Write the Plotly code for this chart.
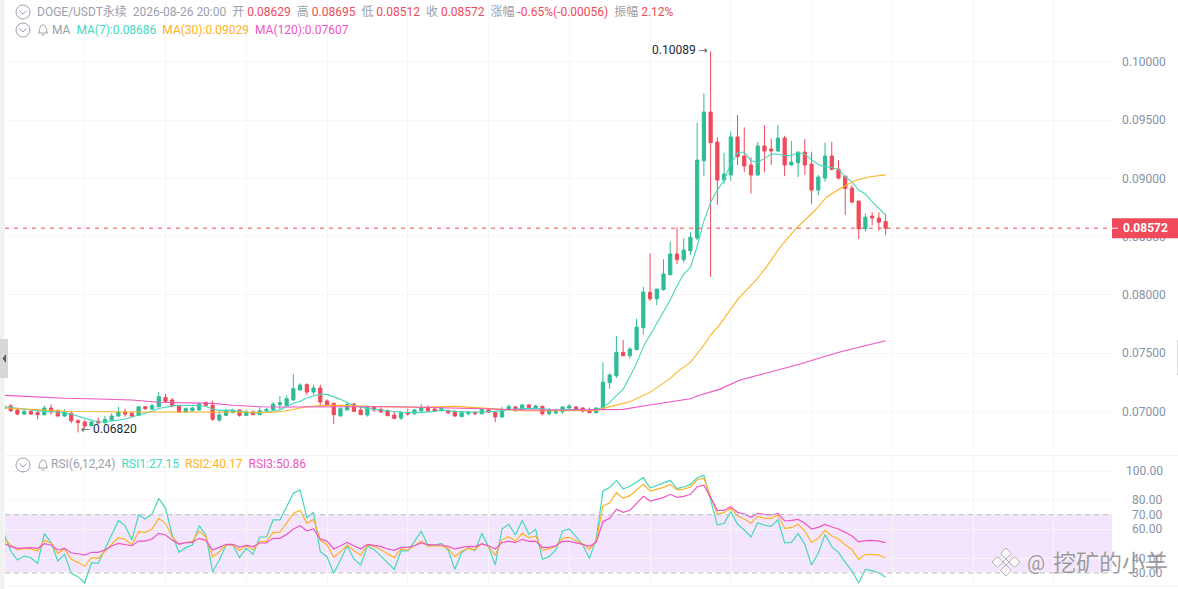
import plotly.graph_objects as go

W, H = 1178, 589

# ---------- candle data ----------
opens = [.07024,.07047,.07013,.06978,.07001,.06990,.06973,.07030,.07007,.06961,.06984,.06921,.06910,.06876,.06918,.06904,.06927,.06961,.06996,.06984,
         .06967,.07041,.07021,.07041,.07121,.07099,.07047,.06996,.07007,.07013,.07076,.07053,.06927,.06967,.06990,.07013,.06967,.06996,.06973,.07007,
         .07013,.07059,.07053,.07099,.07184,.07230,.07167,.07201,.07090,.07070,.06961,.07013,.07064,.07013,.06970,.07036,.07018,.07007,.06970,.06944,
         .06990,.06981,.07004,.07036,.07021,.07007,.07007,.06999,.06956,.06981,.06993,.06981,.07013,.06993,.06953,.07021,.07039,.07013,.07056,.07030,
         .07044,.06981,.06987,.06999,.07030,.07039,.07030,.07013,.06990,.07018,.07247,.07307,.07507,.07478,.07530,.07719,.08022,.07967,.08045,.08173,
         .08351,.08302,.08379,.08487,.09151,.09568,.09311,.08985,.09028,.09354,.09191,.09114,.09028,.09277,.09251,.09234,.09345,.09114,.09134,.09225,
         .09122,.08899,.09002,.09191,.09079,.09019,.08916,.08805,.08567,.08676,.08659,.08629]
highs = [.07059,.07064,.07027,.07018,.07013,.07021,.07053,.07061,.07018,.07018,.07007,.06933,.06927,.06916,.06950,.06961,.06984,.07041,.07024,.07001,
         .07047,.07047,.07067,.07167,.07150,.07116,.07047,.07036,.07041,.07076,.07087,.07093,.07007,.07024,.07024,.07018,.07013,.07007,.07036,.07033,
         .07081,.07133,.07139,.07322,.07242,.07242,.07230,.07230,.07104,.07076,.07036,.07081,.07076,.07041,.07047,.07041,.07036,.07018,.07001,.07007,
         .07024,.07024,.07064,.07053,.07027,.07041,.07018,.07013,.07001,.07007,.07004,.07024,.07030,.07007,.07041,.07059,.07047,.07064,.07064,.07059,
         .07050,.07030,.07024,.07047,.07064,.07047,.07036,.07033,.07036,.07421,.07333,.07647,.07613,.07550,.07796,.08070,.08356,.08052,.08305,.08459,
         .08579,.08485,.08537,.09477,.09728,.10089,.09351,.09219,.09402,.09543,.09437,.09179,.09311,.09457,.09342,.09457,.09365,.09319,.09228,.09337,
         .09228,.09028,.09305,.09314,.09156,.09019,.08942,.08805,.08699,.08710,.08710,.08695]
lows = [.07018,.06996,.06967,.06973,.06970,.06933,.06967,.06973,.06956,.06956,.06898,.06820,.06853,.06875,.06898,.06898,.06921,.06956,.06956,.06956,
        .06961,.07013,.07018,.07036,.07076,.07036,.06996,.06990,.07001,.07007,.07047,.06921,.06910,.06961,.06984,.06956,.06961,.06967,.06970,.06996,
        .07007,.07013,.07047,.07093,.07179,.07144,.07144,.07041,.07047,.06893,.06961,.07013,.06996,.06970,.06956,.06996,.06990,.06961,.06933,.06927,
        .06964,.06973,.07001,.07001,.06999,.07001,.06978,.06956,.06953,.06967,.06970,.06976,.06990,.06910,.06950,.07007,.07001,.07007,.07027,.07018,
        .06967,.06967,.06978,.06978,.07024,.07007,.06990,.06984,.06984,.07012,.07195,.07287,.07476,.07453,.07527,.07659,.07947,.07913,.08036,.08170,
        .08265,.08276,.08342,.08470,.09019,.08155,.08773,.08950,.08979,.09114,.09053,.08870,.09025,.09051,.09114,.09228,.09019,.09110,.09011,.09031,
        .08779,.08856,.08970,.09071,.08990,.08687,.08785,.08479,.08544,.08596,.08550,.08512]
closes = [.07047,.07007,.06978,.07001,.06978,.06973,.07030,.06996,.06961,.06996,.06921,.06904,.06876,.06910,.06901,.06933,.06961,.06996,.06978,.06961,
          .07041,.07024,.07050,.07127,.07087,.07047,.06996,.07024,.07030,.07064,.07053,.06933,.06970,.07007,.07013,.06967,.06996,.06973,.07007,.07016,
          .07064,.07076,.07110,.07196,.07227,.07167,.07201,.07081,.07053,.06973,.07024,.07059,.07001,.06973,.07036,.07013,.06996,.06964,.06941,.06993,
          .06978,.07013,.07033,.07004,.07001,.07024,.06990,.06961,.06990,.06996,.06981,.07016,.06993,.06953,.07001,.07041,.07007,.07056,.07033,.07047,
          .06981,.07007,.06999,.07039,.07047,.07016,.07004,.06990,.07030,.07252,.07313,.07507,.07478,.07536,.07724,.08025,.07967,.08050,.08179,.08351,
          .08302,.08385,.08494,.09156,.09568,.09305,.08985,.09036,.09354,.09185,.09105,.09028,.09277,.09234,.09234,.09345,.09114,.09139,.09225,.09114,
          .08899,.09011,.09191,.09076,.09002,.08913,.08796,.08567,.08667,.08659,.08624,.08572]
candle_x = list(range(len(opens)))

# ---------- moving averages ----------
ma7_x = [0,2,4,6,8,10,12,14,15,16,17,18,20,22,23,24,25,26,27,28,29,30,31,32,33,34,35,36,38,40,41,43,44,45,46,47,48,50,52,53,55,57,59,62,64,65,67,70,73,75,78,80,82,84,87,88,
         89,90,91,92,93,94,95,96,97,98,99,100,101,102,103,104,105,106,107,108,109,110,111,112,113,114,115,116,117,118,119,120,121,122,123,124,125,126,127,128,129,130,131]
ma7 = [.07041,.07027,.07013,.07001,.06996,.06978,.06941,.06910,.06912,.06916,.06926,.06936,.06967,.07002,.07025,.07038,.07048,.07053,.07051,.07052,.07054,.07043,.07021,.07010,.07012,.07010,.07001,.06991,.06985,.07007,.07015,.07070,.07087,.07116,.07135,.07147,.07147,.07104,.07050,.07036,.07018,.07007,.06993,.06990,.07001,.07013,.07001,.06993,.07001,.07016,.07027,.07024,.07013,.07018,.07007,.07018,
       .07035,.07078,.07138,.07192,.07298,.07413,.07556,.07656,.07750,.07847,.07956,.08076,.08179,.08235,.08417,.08634,.08794,.08899,.08985,.09128,.09219,.09225,.09151,.09136,.09171,.09205,.09208,.09196,.09196,.09219,.09208,.09156,.09119,.09099,.09093,.09076,.09013,.08970,.08899,.08865,.08799,.08742,.08686]
ma30_x = [0,10,20,30,40,42,44,45,47,50,53,56,59,62,65,67,70,73,77,81,84,88,89,91,93,96,99,100,102,104,105,106.4,109,111.8,113.3,115.3,117.7,120.3,122.3,124.7,126.7,128.7,131]
ma30 = [.07030,.07000,.06996,.06993,.06993,.07007,.07027,.07041,.07050,.07053,.07047,.07041,.07036,.07036,.07041,.07044,.07033,.07024,.07007,.07007,.07007,.07010,.07027,.07055,.07084,.07164,.07284,.07338,.07421,.07570,.07656,.07747,.07960,.08130,.08241,.08407,.08570,.08713,.08842,.08928,.08985,.09013,.09029]
ma120_x = [0,4,9,14,19,23,29,31,34,38,41,47,53,59,62,67,73,78,84,88,89,92,95,99,102,103,106.4,109.4,112.3,115.3,118.3,121.2,124.2,127.2,131]
ma120 = [.07139,.07127,.07113,.07107,.07099,.07079,.07070,.07070,.07053,.07041,.07039,.07037,.07041,.07041,.07036,.07030,.07018,.07013,.07013,.07013,.07018,.07018,.07047,.07081,.07110,.07133,.07192,.07270,.07313,.07356,.07407,.07459,.07510,.07553,.07607]

# ---------- RSI ----------
rsi1 = [57.2,45.1,38.9,41.6,40.5,36.6,57,51,38.2,42.8,29.8,27.5,23.1,37.1,36.6,46.5,56.5,65.9,62.5,52.6,69.8,67,70.5,81.2,74.4,56.1,44.2,47.4,49.2,62.5,56.1,30.9,38.9,49.2,49.2,40.5,46.9,42.8,54.7,54.7,66.4,66.4,75.5,84.7,87,68,71.6,
        44.6,41.2,29.8,38.9,48.5,39.6,35.5,48.5,46.2,41.6,37.1,32.5,45.3,45.1,51.5,58.8,48.7,49.2,50.3,45.8,32.5,43.9,47.4,45.3,57.2,48.1,35.5,60.2,63.4,56.1,66.1,56.5,60,39.4,41.2,45.8,58.8,60.2,54.9,49.2,40,53.3,
        86.3,88.6,93.6,87.6,89.5,92.7,95.4,88.3,89.9,91.8,93.6,87.9,89,90.8,95.4,97,80.1,62.9,64.1,72.1,63.4,59.5,54.7,64.5,62.9,62,66.6,50.6,51,57,49.6,35.5,43.5,56.5,48.1,44.2,37.3,31.4,23.1,32.5,31.6,30.2,27.15]
rsi2 = [53.8,49.2,45.8,46.9,46.5,45.1,52.4,50.6,43.5,46.5,39.4,37.3,34.6,40.5,40,45.1,49.7,54.2,53.1,49.2,58.4,57.9,60.2,67.5,64.1,54.9,49.7,50.8,51.5,58.8,54.9,41.2,44.6,49.2,49.2,45.5,48.5,46,51.5,51.5,57.9,57.9,64.1,70.9,73,64.1,66.8,
        52.6,49.2,40.7,44.6,49.2,45.3,42.3,49.2,48.3,46,43.5,40.7,46.5,45.8,48.7,51.9,48.5,48.5,48.7,46.9,41.2,45.1,46.9,46,50.3,48.1,42.3,52.9,54.9,51.9,57.2,54.2,55.4,45.8,46.5,48.3,53.8,54.5,52.2,49.9,46.2,51.9,
        76.2,78,85.1,81.2,83.1,87,90.8,86.3,87.4,88.8,90.8,87,87.6,89,94,95,82.4,70.5,71.4,74.4,69.3,67,64.1,68.9,67.5,67.5,69.8,60.6,61.1,63.4,58.8,51,53.8,59.3,55.4,53.3,49.2,46.2,39.4,42.8,42.8,42.3,40.17]
rsi3 = [50.3,48.1,46.9,47.4,47.4,46.9,50.1,49.2,45.8,46.9,43.9,43.2,42.3,44.2,44.2,45.8,48.5,50.3,49.7,48.7,51.9,51.9,53.3,57.2,56.1,52.6,49.9,50.8,51,53.8,52.4,45.8,47.6,49.7,49.7,47.8,49,48.1,50.6,50.6,53.8,53.8,56.5,60.2,62.5,59,60.2,
        53.3,51.9,46.5,48.7,51,48.7,46.5,49.7,49.2,48.3,46.5,45.5,47.6,47.6,48.7,50.6,49.4,49.4,49.2,48.3,46.5,47.6,48.3,48.1,49.9,48.7,46.5,50.8,51.9,50.8,53.1,51.7,51.9,47.6,47.6,48.7,51.7,51.7,50.8,49.7,48.3,51,
        65.2,67.5,73.7,71.6,73,77.8,82.6,79.4,80.5,81.7,84,81.9,82.6,84,89.2,90.2,81.7,73,73,75.5,71.6,70.5,68.2,70.9,70.2,69.8,70.9,65.7,66.1,66.8,64.1,60.2,61.3,63.4,61.6,60.2,57.9,55.4,51.3,52.2,52.4,51.9,50.86]

# ---------- axis ticks and text ----------
price_ticks = [0.10, 0.095, 0.09, 0.085, 0.08, 0.075, 0.07]
price_labels = ["0.10000", "0.09500", "0.09000", "0.08500", "0.08000", "0.07500", "0.07000"]
rsi_ticks = [100, 80, 70, 60, 40, 30]
rsi_labels = ["100.00", "\u200280.00", "\u200270.00", "\u200260.00", "\u200240.00", "\u200230.00"]
time_grid = [0, 12, 24, 36, 48, 60, 72, 84, 96, 108, 120, 132, 144, 156]
last_price, last_label = 0.08572, "0.08572"
top_price, top_index = 0.10089, 105
low_price, low_index = 0.06820, 11

GREEN, RED = "#2EBD96", "#F04A5A"
TEAL, ORANGE, PINK = "#45D8BB", "#FFB224", "#EE55C4"
GRAY, AXISTXT, GRID = "#9AA1AC", "#8593A8", "#F6F6F6"
FONT = "Roboto, 'Noto Sans CJK SC', sans-serif"


def xp(p):
    return p / W


def yp(p):
    return 1 - p / H


fig = go.Figure()
fig.add_trace(go.Candlestick(
    x=candle_x, open=opens, high=highs, low=lows, close=closes,
    increasing=dict(line=dict(color=GREEN, width=1), fillcolor=GREEN),
    decreasing=dict(line=dict(color=RED, width=1), fillcolor=RED),
    whiskerwidth=0, hoverinfo="skip", xaxis="x", yaxis="y"))
for xs, ys, c in [(ma7_x, ma7, TEAL), (ma30_x, ma30, ORANGE), (ma120_x, ma120, PINK)]:
    fig.add_trace(go.Scatter(x=xs, y=ys, mode="lines", line=dict(color=c, width=1.1),
                             hoverinfo="skip", xaxis="x", yaxis="y"))
for ys, c in [(rsi1, TEAL), (rsi2, ORANGE), (rsi3, PINK)]:
    fig.add_trace(go.Scatter(x=candle_x, y=ys, mode="lines", line=dict(color=c, width=1.2),
                             hoverinfo="skip", xaxis="x2", yaxis="y2"))

shapes = []


def paper_shape(**kw):
    shapes.append(dict(xref="paper", yref="paper", **kw))


# side strip and panes
paper_shape(type="rect", x0=0, x1=xp(4.5), y0=0, y1=1, fillcolor="#F1F1F1", line_width=0, layer="below")
paper_shape(type="rect", x0=0, x1=xp(8), y0=yp(378), y1=yp(339), fillcolor="#D8D8D8", line_width=0)
paper_shape(type="path", path=f"M {xp(6)} {yp(354)} L {xp(2.5)} {yp(358.5)} L {xp(6)} {yp(363)} Z",
            fillcolor="#555B66", line_width=0)
paper_shape(type="line", x0=xp(1177.5), x1=xp(1177.5), y0=yp(375), y1=yp(340), line=dict(color="#DDDDDD", width=1))
for py in (455.5, 586.5):
    paper_shape(type="line", x0=xp(5), x1=1, y0=yp(py), y1=yp(py), line=dict(color="#F4F4F4", width=1))

# RSI band
shapes.append(dict(type="rect", xref="paper", yref="y2", x0=xp(5), x1=xp(1112), y0=30.7, y1=70,
                   fillcolor="#F3E5FD", line_width=0, layer="below"))
for v in (70, 30):
    shapes.append(dict(type="line", xref="paper", yref="y2", x0=xp(5), x1=xp(1112), y0=v, y1=v,
                       line=dict(color="#BDBDBD", width=1, dash="5px,4px")))

# last price
shapes.append(dict(type="line", xref="paper", yref="y", x0=xp(5), x1=xp(1112), y0=last_price, y1=last_price,
                   line=dict(color=RED, width=1, dash="4px,5px")))
shapes.append(dict(type="rect", xref="paper", yref="y", ysizemode="pixel", yanchor=last_price,
                   x0=xp(1112), x1=1, y0=-10, y1=10, fillcolor=RED, line_width=0))
shapes.append(dict(type="line", xref="paper", yref="y", x0=xp(1112), x1=xp(1118), y0=last_price, y1=last_price,
                   line=dict(color="white", width=1)))


def chevron_icon(cx, cy):
    paper_shape(type="circle", x0=xp(cx - 7), x1=xp(cx + 7), y0=yp(cy + 7), y1=yp(cy - 7),
                line=dict(color=GRAY, width=1))
    paper_shape(type="path", path=f"M {xp(cx-3.5)} {yp(cy-1.5)} L {xp(cx)} {yp(cy+2)} L {xp(cx+3.5)} {yp(cy-1.5)}",
                line=dict(color=GRAY, width=1))


def bell_icon(cx, cy):
    paper_shape(type="path",
                path=f"M {xp(cx-4.5)} {yp(cy+3)} L {xp(cx+4.5)} {yp(cy+3)} "
                     f"C {xp(cx+3)} {yp(cy+1)} {xp(cx+4)} {yp(cy-5)} {xp(cx)} {yp(cy-5)} "
                     f"C {xp(cx-4)} {yp(cy-5)} {xp(cx-3)} {yp(cy+1)} {xp(cx-4.5)} {yp(cy+3)} Z",
                line=dict(color=GRAY, width=1))
    paper_shape(type="line", x0=xp(cx - 1.5), x1=xp(cx + 1.5), y0=yp(cy + 5), y1=yp(cy + 5),
                line=dict(color=GRAY, width=1))


chevron_icon(23, 12)
chevron_icon(23, 30)
bell_icon(43, 30)
chevron_icon(23, 465)
bell_icon(43, 465)

# watermark logo
for cx, cy, r in [(997.5, 562, 5.5), (1006, 553.5, 5.5), (1014.5, 562, 5.5), (1006, 570.5, 5.5), (1006, 562, 3)]:
    paper_shape(type="path",
                path=f"M {xp(cx)} {yp(cy-r)} L {xp(cx+r)} {yp(cy)} L {xp(cx)} {yp(cy+r)} L {xp(cx-r)} {yp(cy)} Z",
                fillcolor="#F7F7F7", line=dict(color="#B5B5B5", width=1))

ann = []


def text(px, py, s, color=GRAY, size=12, anchor="left"):
    ann.append(dict(xref="paper", yref="paper", x=xp(px), y=yp(py), text=s, showarrow=False,
                    xanchor=anchor, yanchor="middle", align=anchor,
                    font=dict(family=FONT, size=size, color=color)))


def red(s):
    return f'<span style="color:{RED}">{s}</span>'


def colored(s, c):
    return f'<span style="color:{c}">{s}</span>'


text(35, 11.5, "DOGE/USDT永续  2026-08-26 20:00  开 " + red("0.08629") + "  高 " + red("0.08695") +
     "  低 " + red("0.08512") + "  收 " + red("0.08572") + "  涨幅 " + red("-0.65%(-0.00056)") +
     "  振幅 " + red("2.12%"))
text(50, 30, "MA  " + colored("MA(7):0.08686", TEAL) + "  " + colored("MA(30):0.09029", ORANGE) + "  " +
     colored("MA(120):0.07607", PINK))
text(49, 464, "RSI(6,12,24)  " + colored("RSI1:27.15", TEAL) + "  " + colored("RSI2:40.17", ORANGE) + "  " +
     colored("RSI3:50.86", PINK))
text(1145, 228, last_label, "white", 12, "center")
ann[-1]["font"]["weight"] = 700
text(1025, 563, "@", "rgba(125,125,125,0.75)", 20, "left")
ann[-1]["font"]["shadow"] = "0px 0px 2px white"
text(1051, 563, "挖矿的小羊", "rgba(125,125,125,0.75)", 23, "left")
ann[-1]["font"]["shadow"] = "0px 0px 2px white"

ann.append(dict(xref="x", yref="y", x=top_index, y=top_price,
                text='0.10089 <span style="font-size:9px">→</span>', showarrow=False,
                xanchor="right", yanchor="middle", xshift=-1, yshift=1, font=dict(family=FONT, size=12, color="#222831")))
ann.append(dict(xref="x", yref="y", x=low_index, y=low_price,
                text='<span style="font-size:9px">←</span> 0.06820', showarrow=False,
                xanchor="left", yanchor="middle", xshift=1, yshift=3, font=dict(family=FONT, size=12, color="#222831")))

x_left = (5 - 3.97) / 6.73
x_right = (1112 - 3.97) / 6.73
common_x = dict(range=[x_left, x_right], domain=[xp(5), xp(1112)], tickvals=time_grid, showticklabels=False,
                showgrid=True, gridcolor=GRID, gridwidth=1, zeroline=False, ticks="", showline=False,
                rangeslider=dict(visible=False))
y_common = dict(side="right", showgrid=True, gridcolor=GRID, gridwidth=1, zeroline=False, ticks="", showline=False,
                tickfont=dict(family=FONT, size=12, color=AXISTXT))

fig.update_layout(
    width=W, height=H, autosize=False, margin=dict(l=0, r=0, t=0, b=0),
    paper_bgcolor="white", plot_bgcolor="white", showlegend=False, boxgap=0.32,
    font=dict(family=FONT),
    xaxis=dict(anchor="y", **common_x),
    xaxis2=dict(anchor="y2", **common_x),
    yaxis=dict(anchor="x", domain=[yp(451), 1], range=[0.1 - (451 - 61.7) / 11660, 0.1 + 61.7 / 11660],
               tickvals=price_ticks, ticktext=price_labels, ticklabelstandoff=9, **y_common),
    yaxis2=dict(anchor="x2", domain=[yp(587), yp(455)], range=[100 - (587 - 471) / 1.457, 100 + 16 / 1.457],
                tickvals=rsi_ticks, ticktext=rsi_labels, ticklabelstandoff=13, **y_common),
    shapes=shapes, annotations=ann,
)

fig.write_html("out.html", config={"displayModeBar": False},
               post_script="document.body.style.margin='0';document.body.style.overflow='hidden';")
